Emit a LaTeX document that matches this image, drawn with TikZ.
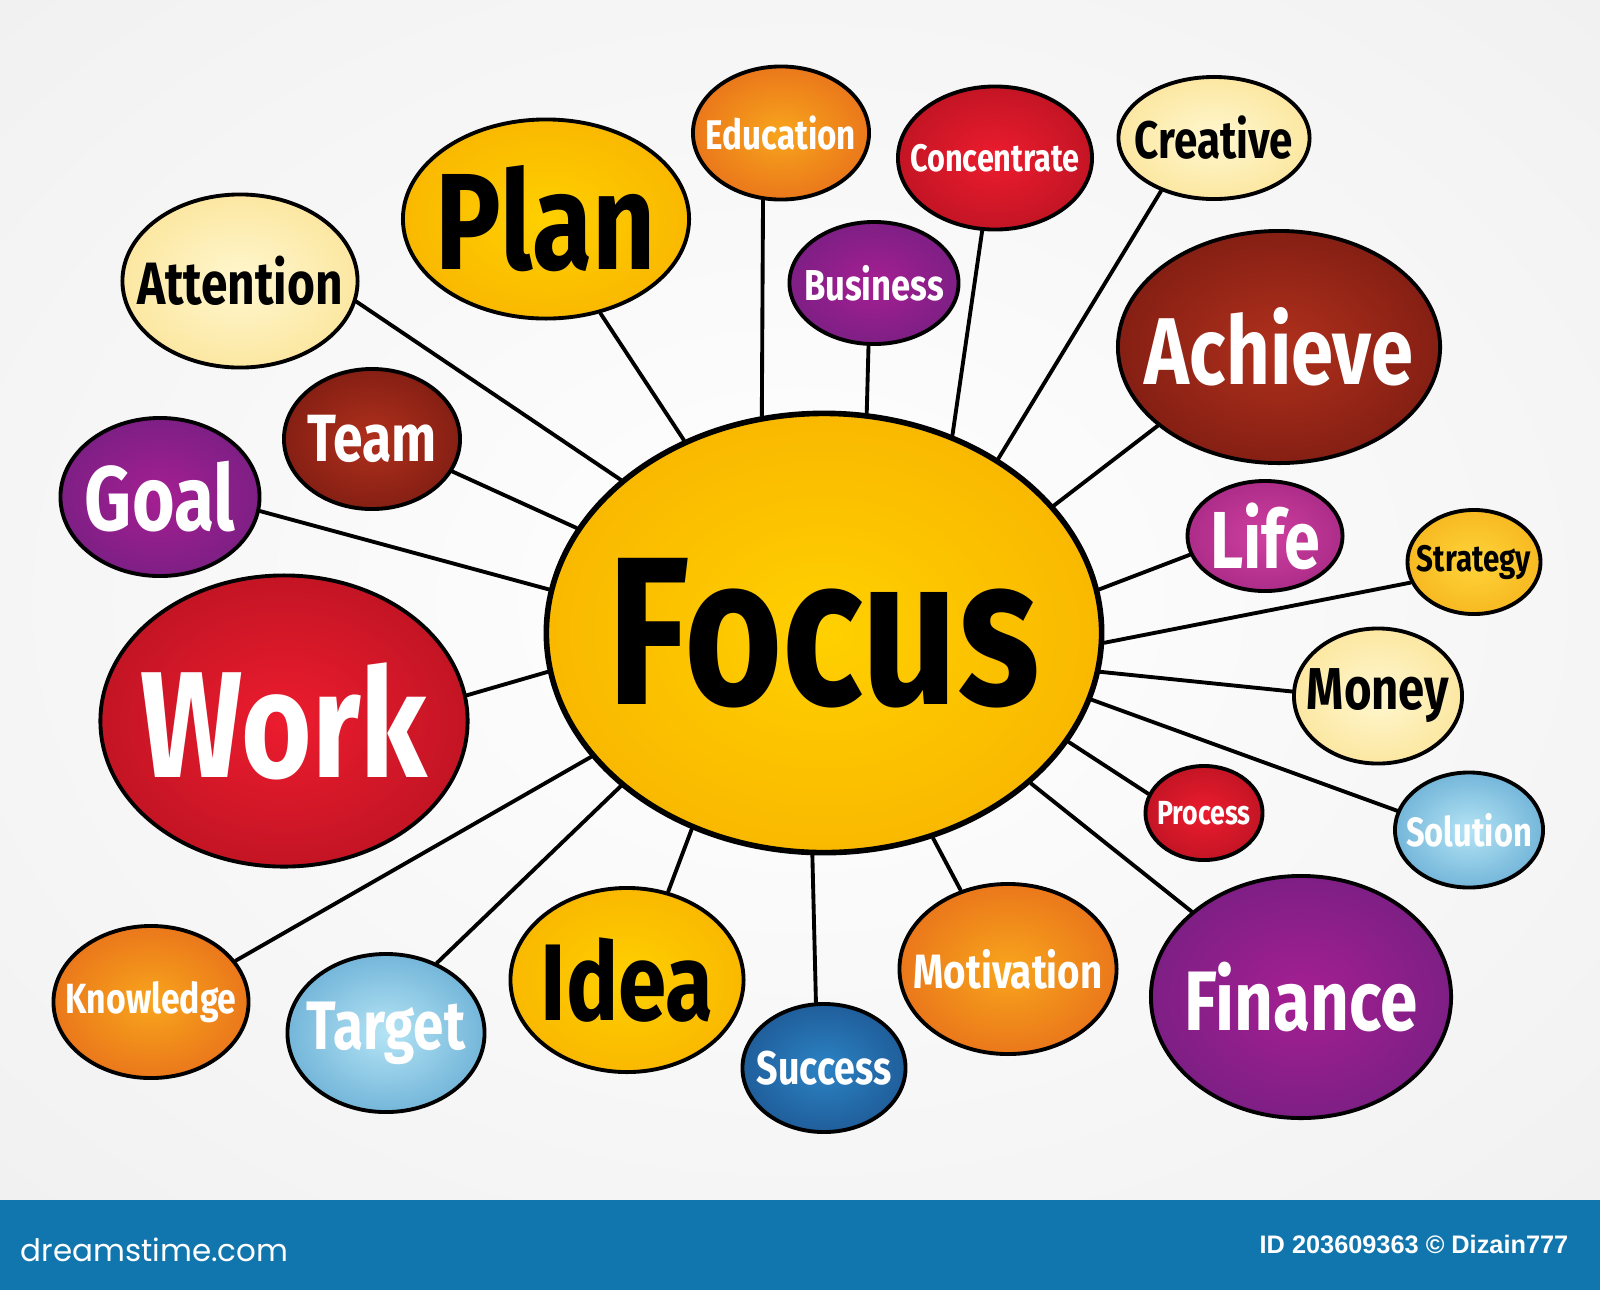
\documentclass[tikz,border=0pt]{standalone}
\usepackage{fontspec}
\usepackage{tikz}
\usepackage{xcolor}
\usetikzlibrary{shapes.geometric}
\newfontfamily\hand[FakeStretch=0.8]{Fira Sans}
\newfontfamily\barfont{Liberation Sans}
\newfontfamily\logofont{Poppins}
\definecolor{barblue}{HTML}{1276AE}
\definecolor{yelin}{HTML}{FFD000}
\definecolor{yelout}{HTML}{F4A300}
\definecolor{palein}{HTML}{FFF7CF}
\definecolor{paleout}{HTML}{F9D978}
\definecolor{orngin}{HTML}{F8A51C}
\definecolor{orngout}{HTML}{DE4E1A}
\definecolor{redin}{HTML}{EC1C2E}
\definecolor{redout}{HTML}{9E0E1C}
\definecolor{purpin}{HTML}{A51F92}
\definecolor{purpout}{HTML}{5A1E78}
\definecolor{brwnin}{HTML}{B0301C}
\definecolor{brwnout}{HTML}{5E100C}
\definecolor{pinkin}{HTML}{CF3FA0}
\definecolor{pinkout}{HTML}{8E1C74}
\definecolor{goldin}{HTML}{FFD43A}
\definecolor{goldout}{HTML}{F0A00A}
\definecolor{skyin}{HTML}{B4E4F5}
\definecolor{skyout}{HTML}{3A8CC0}
\definecolor{navyin}{HTML}{2C83C4}
\definecolor{navyout}{HTML}{143C75}
\definecolor{bgin}{HTML}{FFFFFF}
\definecolor{bgout}{HTML}{ECECEC}
\colorlet{bubin}{white}
\colorlet{bubout}{white}
\pgfdeclareradialshading[bubin,bubout]{bubble}{\pgfpoint{0bp}{0bp}}{color(0bp)=(bubin); color(48bp)=(bubout); color(50bp)=(bubout)}

\begin{document}
\begin{tikzpicture}[x=0.01cm, y=-0.01cm,
    tint/.style={/utils/exec={\colorlet{bubin}{#1in}\colorlet{bubout}{#1out}}, shading=bubble},
    bub/.style={ellipse, draw=black, line width=1.1pt, inner sep=0pt, tint=#1},
    sz/.style 2 args={minimum width=#1cm, minimum height=#2cm},
    word/.style={font=\hand\bfseries\fontsize{#1}{#1}\selectfont},
    link/.style={line width=1.1pt, line cap=round}]
  \useasboundingbox (0,0) rectangle (1600,1290);
  \shade[tint=bg] (0,0) rectangle (1600,1200);

  % centre
  \node[bub=yel, sz={5.55}{4.39}, line width=1.6pt, label={[word=60]center:Focus}] (focus) at (824,633) {};

  % top and left
  \node[bub=yel, sz={2.86}{1.99}, label={[word=39]center:Plan}] (plan) at (546,219) {};
  \node[bub=pale, sz={2.35}{1.73}, label={[word=17]center:Attention}] (attn) at (240,281) {};
  \node[bub=orng, sz={1.76}{1.33}, label={[word=11.8, white]center:Education}] (edu) at (781,133) {};
  \node[bub=red, sz={1.94}{1.43}, label={[word=10.9, white]center:Concentrate}] (conc) at (995,158) {};
  \node[bub=pale, sz={1.91}{1.22}, label={[word=15]center:Creative}] (crea) at (1214,138) {};
  \node[bub=purp, sz={1.69}{1.22}, label={[word=12.3, white]center:Business}] (busi) at (874,283) {};
  \node[bub=brwn, sz={3.22}{2.32}, label={[word=27, white]center:Achieve}] (achv) at (1279,347) {};
  \node[bub=brwn, sz={1.76}{1.40}, label={[word=19, white]center:Team}] (team) at (372,439) {};
  \node[bub=purp, sz={1.99}{1.58}, label={[word=26, white]center:Goal}] (goal) at (160,497) {};
  \node[bub=red, sz={3.67}{2.91}, label={[word=43, white]center:Work}] (work) at (284,721) {};

  % right
  \node[bub=pink, sz={1.55}{1.10}, label={[word=23, white]center:Life}] (life) at (1265,536) {};
  \node[bub=gold, sz={1.33}{1.04}, label={[word=10.5]center:Strategy}] (strt) at (1474,562) {};
  \node[bub=pale, sz={1.68}{1.35}, label={[word=16.8]center:Money}] (mony) at (1378,696) {};
  \node[bub=red, sz={1.17}{0.94}, label={[word=9.5, white]center:Process}] (proc) at (1204,813) {};
  \node[bub=sky, sz={1.48}{1.15}, label={[word=11.6, white]center:Solution}] (solu) at (1469,830) {};

  % bottom
  \node[bub=orng, sz={1.95}{1.52}, label={[word=12, white]center:Knowledge}] (know) at (151,1002) {};
  \node[bub=sky, sz={1.97}{1.58}, label={[word=19.5, white]center:Target}] (targ) at (386,1033) {};
  \node[bub=yel, sz={2.33}{1.84}, label={[word=31]center:Idea}] (idea) at (627,980) {};
  \node[bub=navy, sz={1.63}{1.28}, label={[word=13.4, white]center:Success}] (succ) at (824,1068) {};
  \node[bub=orng, sz={2.17}{1.70}, label={[word=13.7, white]center:Motivation}] (moti) at (1008,969) {};
  \node[bub=purp, sz={3.00}{2.42}, label={[word=24, white]center:Finance}] (fina) at (1301,997) {};

  \foreach \a/\n/\b in {126/plan/300, 143/attn/350, 106/edu/255, 57/conc/260, 45/crea/225,
      79/busi/265, 29/achv/213, 157/team/338, 171/goal/352, 188/work/8, 208/know/26,
      217/targ/54, 236/idea/65, 267/succ/97, 298/moti/121, 324/fina/142, 336/proc/161,
      346/solu/165, 352/mony/177, 358/strt/198, 9/life/194}
    \draw[link] (focus.\a) -- (\n.\b);

  % footer
  \fill[barblue] (0,1200) rectangle (1600,1290);
  \node[anchor=base west, inner sep=0pt, text=white, font=\logofont\fontsize{8.8}{8.8}\selectfont] (site) at (20,1261) {dreamstime.com};
  \node[anchor=base east, inner sep=0pt, text=white, font=\barfont\bfseries\fontsize{7.2}{7.2}\selectfont] (credit) at (1569,1253) {ID 203609363 © Dizain777};
\end{tikzpicture}
\end{document}
